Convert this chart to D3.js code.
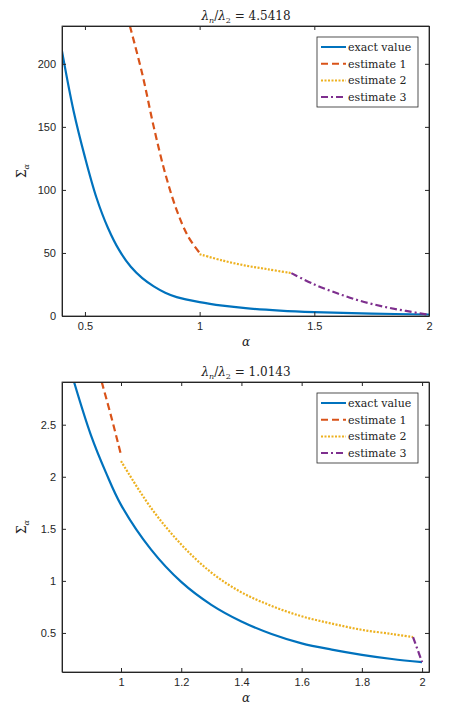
<!DOCTYPE html>
<html><head><meta charset="utf-8">
<script src="https://cdn.jsdelivr.net/npm/d3@7"></script>
<style>body{margin:0;background:#fff}svg{display:block}</style>
</head><body>
<svg id="c" width="474" height="711"></svg>
<script>
// Panel 1 data (ratio 4.5418)
const p1Exact = [[0.4,210],[0.45,163],[0.5,126],[0.55,94],[0.6,70],[0.65,52],[0.7,39],[0.75,30],[0.8,23.5],[0.85,18.5],[0.9,15],[1.0,11],[1.1,8.2],[1.2,6.2],[1.35,4.3],[1.5,3.1],[1.75,1.9],[2.0,1.2]];
const p1Est1 = [[0.696,230],[0.75,192],[0.8,150],[0.85,113],[0.9,84],[0.95,63],[1.0,50]];
const p1Est2 = [[1.0,49],[1.1,44],[1.2,40],[1.3,37],[1.4,34]];
const p1Est3 = [[1.4,34],[1.5,25],[1.6,18],[1.7,12],[1.8,7.5],[1.9,4],[2.0,1]];
const p1XTicks = [0.5,1,1.5,2];
const p1YTicks = [0,50,100,150,200];
// Panel 2 data (ratio 1.0143)
const p2Exact = [[0.844,2.91],[0.9,2.4],[0.95,2.04],[1.0,1.73],[1.1,1.3],[1.2,0.99],[1.3,0.77],[1.4,0.61],[1.5,0.49],[1.6,0.40],[1.7,0.34],[1.8,0.29],[1.9,0.25],[2.0,0.22]];
const p2Est1 = [[0.936,2.91],[0.97,2.55],[1.0,2.21]];
const p2Est2 = [[1.0,2.15],[1.1,1.7],[1.2,1.35],[1.3,1.08],[1.4,0.89],[1.5,0.76],[1.6,0.66],[1.7,0.59],[1.8,0.53],[1.9,0.49],[1.97,0.46]];
const p2Est3 = [[1.97,0.46],[2.0,0.22]];
const p2XTicks = [1,1.2,1.4,1.6,1.8,2];
const p2YTicks = [0.5,1,1.5,2,2.5];
const legendLabels = ["exact value","estimate 1","estimate 2","estimate 3"];
const colors = ["#0072BD","#D95319","#EDB120","#7E2F8E"];
const dashes = [null,"7,4","2,1.5","7,3,2,3"];

const svg = d3.select("#c");
function panel(o){
  const g = svg.append("g");
  const x = d3.scaleLinear().domain(o.xd).range([62,429]);
  const y = d3.scaleLinear().domain(o.yd).range([o.bottom,o.top]);
  const clipId = "clip"+o.top;
  svg.append("clipPath").attr("id",clipId).append("rect").attr("x",62).attr("y",o.top).attr("width",367).attr("height",o.bottom-o.top);
  const line = d3.line().x(d=>x(d[0])).y(d=>y(d[1])).curve(d3.curveCatmullRom.alpha(0.5));
  [o.exact,o.e1,o.e2,o.e3].forEach((s,i)=>{
    g.append("path").attr("d",line(s)).attr("fill","none").attr("stroke",colors[i]).attr("stroke-width",2.2)
     .attr("stroke-dasharray",dashes[i]).attr("clip-path",`url(#${clipId})`);
  });
  const ax = (a)=>a.tickSizeOuter(0).tickSizeInner(-4).tickPadding(6);
  const fmt = d=>String(d);
  const sty = sel=>{sel.select(".domain").attr("stroke","#262626");sel.selectAll(".tick line").attr("stroke","#262626");
    sel.selectAll("text").attr("font-family","Liberation Sans, Arial").attr("font-size",11).attr("fill","#262626");};
  g.append("g").attr("transform",`translate(0,${o.bottom})`).call(ax(d3.axisBottom(x).tickValues(o.xt).tickFormat(fmt))).call(sty);
  g.append("g").attr("transform",`translate(0,${o.top})`).call(ax(d3.axisTop(x).tickValues(o.xt)).tickFormat("")).call(sty).selectAll("text").remove();
  g.append("g").attr("transform",`translate(62,0)`).call(ax(d3.axisLeft(y).tickValues(o.yt).tickFormat(fmt))).call(sty);
  g.append("g").attr("transform",`translate(429,0)`).call(ax(d3.axisRight(y).tickValues(o.yt)).tickFormat("")).call(sty).selectAll("text").remove();
  g.append("rect").attr("x",62).attr("y",o.top).attr("width",367).attr("height",o.bottom-o.top).attr("fill","none").attr("stroke","#262626").attr("stroke-width",0.8);
  const t = g.append("text").attr("x",246).attr("y",o.top-6).attr("text-anchor","middle").attr("font-family","DejaVu Serif, serif").attr("font-size",12).attr("fill","#222");
  t.append("tspan").attr("font-style","italic").text("λ");
  t.append("tspan").attr("font-size",8).attr("dy",3).attr("font-style","italic").text("n");
  t.append("tspan").attr("dy",-3).text("/");
  t.append("tspan").attr("font-style","italic").text("λ");
  t.append("tspan").attr("font-size",8).attr("dy",3).text("2");
  t.append("tspan").attr("dy",-3).text(" = "+o.ratio);
  g.append("text").attr("x",246).attr("y",o.bottom+30).attr("text-anchor","middle").attr("font-family","DejaVu Serif, serif").attr("font-style","italic").attr("font-size",12).attr("fill","#222").text("α");
  const yl = g.append("text").attr("transform",`translate(26,${(o.top+o.bottom)/2}) rotate(-90)`).attr("text-anchor","middle").attr("font-family","DejaVu Serif, serif").attr("font-size",12).attr("fill","#222");
  yl.append("tspan").text("Σ");
  yl.append("tspan").attr("font-size",8).attr("dy",3).attr("font-style","italic").text("α");
  const lg = g.append("g").attr("transform",`translate(317,${o.top+11})`);
  lg.append("rect").attr("width",101).attr("height",70).attr("fill","#fff").attr("stroke","#262626").attr("stroke-width",0.8);
  legendLabels.forEach((l,i)=>{
    const yy = 10+i*16.7;
    lg.append("line").attr("x1",4).attr("x2",29).attr("y1",yy).attr("y2",yy).attr("stroke",colors[i]).attr("stroke-width",2).attr("stroke-dasharray",dashes[i]);
    lg.append("text").attr("x",31).attr("y",yy+4).attr("font-family","DejaVu Serif, serif").attr("font-size",11).attr("fill","#222").text(l);
  });
}
panel({xd:[0.4,2],yd:[0,230],top:26,bottom:316,exact:p1Exact,e1:p1Est1,e2:p1Est2,e3:p1Est3,xt:p1XTicks,yt:p1YTicks,ratio:"4.5418"});
panel({xd:[0.804,2.023],yd:[0.125,2.91],top:382,bottom:672,exact:p2Exact,e1:p2Est1,e2:p2Est2,e3:p2Est3,xt:p2XTicks,yt:p2YTicks,ratio:"1.0143"});
</script>
</body></html>
